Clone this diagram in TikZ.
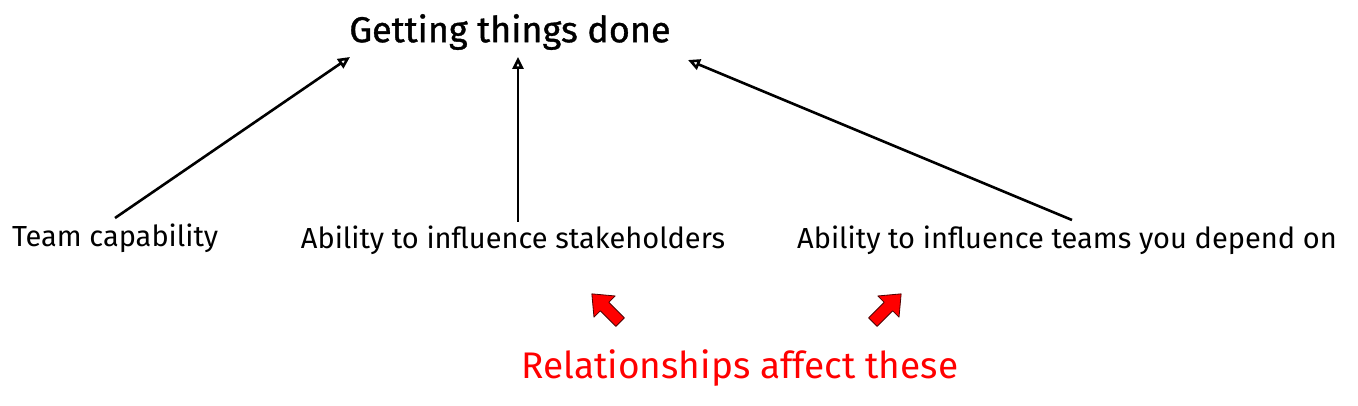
\documentclass[tikz,border=0pt]{standalone}
\usepackage{fontspec}
\setmainfont{Fira Sans}
\usetikzlibrary{arrows.meta}
\begin{document}
\begin{tikzpicture}[x=1pt,y=-1pt,
  lbl/.style={inner sep=0pt,font=\fontsize{29}{33}\selectfont},
  con/.style={line width=2.6pt,-{Triangle[open,length=12pt,width=11pt]}},
  fat/.style={fill=red,draw=black!70!red,line width=0.8pt,line join=round}]
\useasboundingbox (0,0) rectangle (1358,406);
\node[inner sep=0pt,font=\fontsize{36}{42}\selectfont\addfontfeatures{FakeBold=1}] (g) at (510,32) {Getting things done};
\node[lbl,anchor=west] (t) at (12,238) {Team capability};
\node[lbl] (s) at (513,240) {Ability to influence stakeholders};
\node[lbl] (d) at (1067,240) {Ability to influence teams you depend on};
\node[inner sep=0pt,text=red,font=\fontsize{37}{42}\selectfont] (r) at (740,368) {Relationships affect these};
\coordinate (t1) at (115,218); \coordinate (g1) at (350,57);
\coordinate (s1) at (518,222); \coordinate (g2) at (518,57);
\coordinate (d1) at (1072,220); \coordinate (g3) at (688,60);
\draw[con] (t1) -- (g1);
\draw[con] (s1) -- (g2);
\draw[con] (d1) -- (g3);
\begin{scope}[shift={(606,308)},rotate=135]
\path[fat] (-20,-6) -- (2,-6) -- (2,-15) -- (20,0) -- (2,15) -- (2,6) -- (-20,6) -- cycle;
\end{scope}
\begin{scope}[shift={(887,308)},rotate=45]
\path[fat] (-20,-6) -- (2,-6) -- (2,-15) -- (20,0) -- (2,15) -- (2,6) -- (-20,6) -- cycle;
\end{scope}
\end{tikzpicture}
\end{document}
